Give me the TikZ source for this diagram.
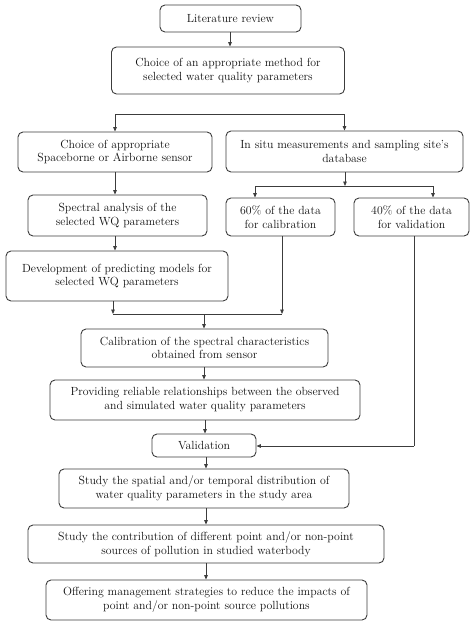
\documentclass[tikz,border=0pt]{standalone}
\usetikzlibrary{arrows.meta}
\definecolor{ln}{HTML}{3C3C3C}
\definecolor{tx}{HTML}{111111}
\begin{document}
\begin{tikzpicture}[x=1pt,y=-1pt,
  box/.style={draw=ln,line width=0.9pt,rounded corners=5pt,align=center,inner sep=1pt,
    text=tx,font=\fontsize{11.8}{13.8}\selectfont},
  conn/.style={draw=ln,line width=0.8pt},
  arr/.style={conn,-{Triangle[length=4.5pt,width=3.6pt]}}]
\useasboundingbox (0,0) rectangle (474,624);
\node[box,minimum width=141pt,minimum height=27pt] (lit) at (230.5,18.5) {Literature review};
\node[box,minimum width=233pt,minimum height=47pt] (meth) at (228,70.5) {Choice of an appropriate method for\\selected water quality parameters};
\node[box,minimum width=194pt,minimum height=40pt] (sens) at (115,152) {Choice of appropriate\\Spaceborne or Airborne sensor};
\node[box,minimum width=237pt,minimum height=41pt] (insitu) at (344.5,151.5) {In situ measurements and sampling site's\\database};
\node[box,minimum width=179pt,minimum height=41pt] (spec) at (117.5,215.5) {Spectral analysis of the\\selected WQ parameters};
\node[box,minimum width=109pt,minimum height=38pt] (cal60) at (280.5,217) {60\% of the data\\for calibration};
\node[box,minimum width=115pt,minimum height=38pt] (val40) at (411.5,217) {40\% of the data\\for validation};
\node[box,minimum width=222pt,minimum height=50pt] (dev) at (117,276) {Development of predicting models for\\selected WQ parameters};
\node[box,minimum width=247pt,minimum height=38pt] (calib) at (204.5,348) {Calibration of the spectral characteristics\\obtained from sensor};
\node[box,minimum width=310pt,minimum height=40pt] (prov) at (205,400) {Providing reliable relationships between the observed\\and simulated water quality parameters};
\node[box,minimum width=104pt,minimum height=23pt] (valid) at (204,445.5) {Validation};
\node[box,minimum width=290pt,minimum height=39pt] (spat) at (204,488.5) {Study the spatial and/or temporal distribution of\\water quality parameters in the study area};
\node[box,minimum width=356pt,minimum height=38pt] (contr) at (206,544) {Study the contribution of different point and/or non-point\\sources of pollution in studied waterbody};
\node[box,minimum width=321pt,minimum height=40pt] (offer) at (206.5,600) {Offering management strategies to reduce the impacts of\\point and/or non-point source pollutions};
% junction coordinates
\coordinate (j1) at (230,114);
\coordinate (j2) at (345,186);
\coordinate (j3) at (204,314);
\coordinate (j4) at (414,446);
\coordinate (v1) at (115,0);
\coordinate (v2) at (205,0);
\coordinate (v3) at (206,0);
% connectors
\draw[arr] (lit.south -| j1) -- (meth.north -| j1);
\draw[conn] (sens.north |- j1) -- (insitu.north |- j1);
\draw[arr] (sens.north |- j1) -- (sens.north);
\draw[arr] (insitu.north |- j1) -- (insitu.north);
\draw[arr] (insitu.south -| j2) -- (j2);
\draw[conn] (255,186) coordinate (j2a) -- (433,186) coordinate (j2b);
\draw[arr] (j2a) -- (cal60.north -| j2a);
\draw[arr] (j2b) -- (val40.north -| j2b);
\draw[arr] (sens.south -| v1) -- (spec.north -| v1);
\draw[arr] (spec.south -| v1) -- (dev.north -| v1);
\coordinate (d1) at (113,314);
\coordinate (d2) at (282,314);
\draw[arr] (dev.south -| d1) -- (d1);
\draw[arr] (cal60.south -| d2) -- (d2);
\draw[conn] (d1) -- (d2);
\draw[arr] (j3) -- (calib.north -| j3);
\draw[arr] (calib.south -| j3) -- (prov.north -| j3);
\draw[arr] (prov.south -| v2) -- (valid.north -| v2);
\draw[conn] (val40.south -| j4) -- (j4);
\draw[arr] (j4) -- (valid.east |- j4);
\draw[arr] (valid.south -| v3) -- (spat.north -| v3);
\draw[arr] (spat.south -| v3) -- (contr.north -| v3);
\draw[arr] (contr.south -| v3) -- (offer.north -| v3);
\end{tikzpicture}
\end{document}
